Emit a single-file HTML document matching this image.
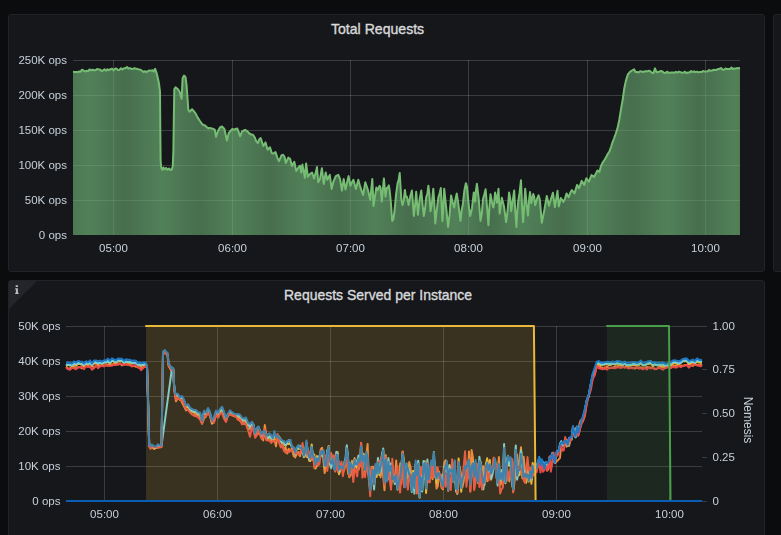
<!DOCTYPE html>
<html><head><meta charset="utf-8"><style>
html,body{margin:0;padding:0;}
body{width:781px;height:535px;overflow:hidden;background:#0b0c0e;position:relative;font-family:"Liberation Sans",sans-serif;}
.panel{position:absolute;background:#16171b;border:1px solid #222328;border-radius:3px;box-sizing:border-box;}
.title{position:absolute;color:#d8d9da;font-size:16px;line-height:18px;-webkit-text-stroke:0.4px #d8d9da;white-space:nowrap;transform-origin:0 0;}
svg{position:absolute;left:0;top:0;will-change:transform;}
</style></head><body>
<div class="panel" style="left:8px;top:14px;width:757px;height:258px;"></div>
<div class="panel" style="left:773px;top:14px;width:60px;height:258px;"></div>
<div class="panel" style="left:8px;top:280px;width:757px;height:300px;"></div>
<div class="title" id="t1" style="top:20px;left:331px;transform:scale(0.88,0.97)">Total Requests</div>
<div class="title" id="t2" style="top:286px;left:283.5px;transform:scale(0.874,0.97)">Requests Served per Instance</div>
<svg width="781" height="535" viewBox="0 0 781 535">
<defs><linearGradient id="gf" x1="73" x2="740" y1="0" y2="0" gradientUnits="userSpaceOnUse"><stop offset="0.0000" stop-color="rgb(115, 185, 122)" stop-opacity="0.6"/><stop offset="0.0255" stop-color="rgb(122, 200, 130)" stop-opacity="0.6"/><stop offset="0.0780" stop-color="rgb(105, 168, 112)" stop-opacity="0.6"/><stop offset="0.1334" stop-color="rgb(122, 200, 130)" stop-opacity="0.6"/><stop offset="0.1904" stop-color="rgb(105, 168, 112)" stop-opacity="0.6"/><stop offset="0.2429" stop-color="rgb(122, 200, 130)" stop-opacity="0.6"/><stop offset="0.2954" stop-color="rgb(105, 168, 112)" stop-opacity="0.6"/><stop offset="0.3478" stop-color="rgb(122, 200, 130)" stop-opacity="0.6"/><stop offset="0.4003" stop-color="rgb(105, 168, 112)" stop-opacity="0.6"/><stop offset="0.4528" stop-color="rgb(122, 200, 130)" stop-opacity="0.6"/><stop offset="0.5052" stop-color="rgb(105, 168, 112)" stop-opacity="0.6"/><stop offset="0.5742" stop-color="rgb(122, 200, 130)" stop-opacity="0.6"/><stop offset="0.6252" stop-color="rgb(105, 168, 112)" stop-opacity="0.6"/><stop offset="0.6732" stop-color="rgb(122, 200, 130)" stop-opacity="0.6"/><stop offset="0.7331" stop-color="rgb(105, 168, 112)" stop-opacity="0.6"/><stop offset="0.7796" stop-color="rgb(122, 200, 130)" stop-opacity="0.6"/><stop offset="0.8381" stop-color="rgb(105, 168, 112)" stop-opacity="0.6"/><stop offset="0.8921" stop-color="rgb(122, 200, 130)" stop-opacity="0.6"/><stop offset="0.9385" stop-color="rgb(105, 168, 112)" stop-opacity="0.6"/><stop offset="0.9925" stop-color="rgb(122, 200, 130)" stop-opacity="0.6"/><stop offset="1.0000" stop-color="rgb(119, 191, 125)" stop-opacity="0.6"/></linearGradient></defs>
<polygon points="9,281 37,281 9,309" fill="#23252a"/>
<g fill="#b9bdc3"><rect x="15.5" y="285.3" width="2.6" height="1.7" rx="0.7"/><path d="M15.2,288.3 H17.9 V292.8 H18.6 V294 H15.2 V292.8 H15.9 V289.4 H15.2 Z"/></g>
<g stroke="rgba(255,255,255,0.16)" stroke-width="1" shape-rendering="crispEdges"><line x1="73" y1="60.5" x2="740" y2="60.5"/><line x1="73" y1="95.5" x2="740" y2="95.5"/><line x1="73" y1="130.5" x2="740" y2="130.5"/><line x1="73" y1="165.5" x2="740" y2="165.5"/><line x1="73" y1="200.5" x2="740" y2="200.5"/><line x1="113.5" y1="60" x2="113.5" y2="235"/><line x1="232.5" y1="60" x2="232.5" y2="235"/><line x1="350.5" y1="60" x2="350.5" y2="235"/><line x1="468.5" y1="60" x2="468.5" y2="235"/><line x1="587.5" y1="60" x2="587.5" y2="235"/><line x1="705.5" y1="60" x2="705.5" y2="235"/><line x1="66" y1="326.5" x2="707" y2="326.5"/><line x1="66" y1="361.5" x2="702" y2="361.5"/><line x1="66" y1="396.5" x2="702" y2="396.5"/><line x1="66" y1="431.5" x2="702" y2="431.5"/><line x1="66" y1="466.5" x2="702" y2="466.5"/><line x1="104.5" y1="326" x2="104.5" y2="501"/><line x1="217.5" y1="326" x2="217.5" y2="501"/><line x1="330.5" y1="326" x2="330.5" y2="501"/><line x1="443.5" y1="326" x2="443.5" y2="501"/><line x1="556.5" y1="326" x2="556.5" y2="501"/><line x1="669.5" y1="326" x2="669.5" y2="501"/></g>
<path d="M73,71.8 L74.5,71.9 L76,71.9 L77.5,72.1 L79,71.5 L80.5,71.8 L82,69.7 L83.5,70.5 L85,71.5 L86.5,70.8 L88,71.3 L89.5,69.5 L91,70.2 L92.5,69.7 L94,70.3 L95.5,70.3 L97,69 L98.5,69.4 L100,69.5 L101.5,70.9 L103,70.6 L104.5,69.3 L106,70.7 L107.5,69.2 L109,70.3 L110.5,69.1 L112,68.7 L113.5,70.4 L115,68.8 L116.5,68.6 L118,70.1 L119.5,69.7 L121,68.2 L122.5,69.4 L124,68.2 L125.5,68.3 L127,67 L128.5,68.5 L130,68.1 L131.5,68.9 L133,68.9 L134.5,68.1 L136,68.8 L137.5,68.9 L139,69.4 L140.5,69.7 L142,70.8 L143.5,72 L145,71.2 L146.5,72.2 L148,70.9 L149.5,70.4 L150,70.9 L152.4,70.3 L153.6,71.5 L155.1,68.8 L156.7,73.4 L157.9,78.2 L159.1,84.3 L160,91.6 L160.3,130 L160.6,160 L161.2,167.5 L162.3,169.8 L163.5,167.5 L164.5,169.2 L166,168 L167.5,169.8 L169,168.5 L170.5,170 L171.8,169.5 L172.8,166 L173.4,150 L173.8,120 L174.3,89.2 L175.5,87.4 L178,89.2 L179.8,92.2 L181.6,98.9 L182.6,78.2 L184,75.6 L185.5,77 L186.5,84.3 L187.4,96.5 L188.3,109.8 L189.5,111.7 L192,109.2 L193.8,111.1 L195.6,113.5 L197.4,117.1 L199.8,120.8 L202.3,124.4 L205,125.5 L207,127.2 L208.5,128.4 L210,127.9 L212.5,128.6 L214.8,129.7 L216,136.8 L218,131 L220,127.5 L222,126.5 L224.4,129 L226.9,140.5 L228.7,133.2 L231.1,130.2 L232.3,129 L234.2,129.6 L235.7,128.9 L237.2,128.4 L238.6,131.8 L240,136.3 L242.1,131.4 L243.6,130.5 L245.1,129.8 L247.5,131.4 L249.3,133.5 L251.2,134.5 L253,134.8 L254.8,137.5 L256.4,141.6 L257.9,143 L259.3,139.2 L260.7,138.1 L263.3,146 L265.5,142.4 L267.6,149.7 L270,147.2 L271.8,153.3 L273.6,153.4 L275.5,152.1 L277.3,157.6 L279.1,161.2 L281.6,155.1 L283.1,154.7 L284.6,157 L285.8,163 L288.3,157.6 L290.1,158.8 L291.9,166.1 L294.3,161.8 L296.2,170.9 L298.6,167.3 L300,165.8 L301.2,172.5 L302.4,164.6 L304.9,177.9 L306.1,163.4 L307.9,176.7 L309.7,174.3 L312.1,172.5 L314,178.5 L315.5,173.6 L317,167 L318.2,182.2 L320,179.1 L321.9,168.2 L323.7,184 L325.7,172.5 L327.3,179.8 L329.8,174.9 L331.6,188.9 L333.4,181.6 L335.8,176.1 L338.3,174.9 L340.1,179.1 L341.9,190.7 L343.7,179.1 L345.5,189.5 L348.6,176.1 L350.4,185.8 L351.9,182.4 L353.4,179.8 L355.9,188.9 L358.3,179.8 L360.1,186.4 L361.6,190.9 L363.1,194.9 L365.3,182.2 L368,190.1 L370.2,199.8 L372.3,179.1 L373.5,205.9 L376.3,187.6 L377.7,190.1 L379.5,185.8 L380.5,187.5 L381.8,201.5 L383.9,178.4 L385.5,196.6 L386.7,188.1 L387.9,187.5 L388.8,185.4 L389.7,190.5 L390.9,203.2 L392.2,221 L393.4,219.1 L394.6,210 L396.1,194.2 L397.6,183.2 L398.6,180.1 L399.7,172.9 L401.3,199 L402.5,205.1 L403.7,200.9 L404.9,189.9 L405.8,196.8 L406.7,196.6 L407.6,199.6 L408.6,205.1 L410.2,196.6 L411.9,190.5 L412.9,203.4 L413.8,216 L415,206.1 L416.2,191.7 L417.9,214.8 L419.6,199.5 L421.3,190.5 L422.6,205.2 L423.8,216 L425,209 L426.2,197.2 L427.3,194.3 L428.4,185.7 L429.4,194.7 L430.5,211.2 L431.9,203.5 L433.3,188.7 L434.3,202.8 L435.3,223.4 L436.9,209 L438.4,197.2 L439.6,193.5 L440.8,188.1 L442.4,220.9 L443.3,208.1 L444.2,188.7 L446.1,206.6 L448.1,227 L449.6,214.6 L451.1,195.4 L452.6,201.9 L454.2,207.6 L455.5,199.1 L456.8,193.6 L458.6,205.8 L460.5,220.9 L461.7,209.8 L462.9,203.9 L464.4,190.2 L465.9,183.2 L466.9,186.5 L467.8,195.4 L469,207.3 L470.2,216.1 L472,208.2 L473.8,192.4 L475.1,201.5 L476,189.9 L476.9,183.8 L478.7,198.7 L480.5,220.9 L481.8,213.8 L483,199 L484.3,194.4 L485.6,189.3 L487,206.5 L488.4,225.2 L489.4,207.6 L490.5,194.2 L491.9,201.7 L493.3,207.6 L494.2,202.6 L495.1,192.4 L496.1,197.2 L497,202.7 L498.5,188.7 L499.7,213.6 L500.8,205.1 L501.8,197.8 L504,206.4 L506.1,222.1 L507.6,210.6 L509.1,192.4 L510.1,198.1 L511.2,211.2 L512.7,200.8 L514.2,190.5 L515.3,211.5 L516.4,227 L517.3,211.3 L518.2,201.5 L519.6,192.7 L521,180.2 L522,204.7 L523.1,222.1 L524.2,206.4 L525.2,188.7 L526.6,204.4 L528,215.5 L529,200.6 L530,192 L531.3,203.2 L532.3,198.1 L533.3,194 L534.2,196.8 L535.2,205.2 L537,199 L538.5,195.3 L539.8,199.3 L541.8,222.8 L544.4,209.7 L546.8,196 L549,205.8 L550.9,199.3 L552.9,192.7 L554.9,207.1 L557.5,190.8 L558.8,206.5 L560.8,198 L563.4,201.9 L565,198.6 L566.6,193.4 L568.6,197.3 L570.2,193.1 L571.9,190.1 L574.5,193.4 L577.1,184.9 L579.1,188.1 L581.7,180.9 L584.3,184.9 L586.3,178.3 L588.9,181.6 L591.5,175.1 L594.1,177 L595.8,173.6 L597.4,170.5 L599.4,171.8 L601,166 L602.6,162.6 L604.8,159.5 L606.3,156.7 L608,153.5 L609.4,151.6 L611,147 L612.5,142.3 L614,138.5 L615.6,134 L617.6,127.9 L619.3,119.7 L621.3,107.3 L622.8,99.1 L624.2,88.8 L625.9,80.6 L627.9,74.4 L630,71.9 L632,70.5 L634.1,69.3 L635.5,72 L637,71.9 L638.5,72.5 L640,71.3 L641.5,71.4 L643,72 L644.5,71.5 L646,71.1 L647.5,71.4 L649,70.8 L650.5,71.4 L652,72.9 L653.5,72.9 L655,68.4 L656.5,72.2 L658,71.9 L659.5,71.6 L661,71 L662.5,71.5 L664,72.7 L665.5,72.9 L667,71.7 L668.5,72.7 L670,72.7 L671.5,72.5 L673,72.5 L674.5,72.7 L676,71.8 L677.5,72.6 L679,71.6 L680.5,72.1 L682,72.8 L683.5,72.6 L685,71.7 L686.5,73.2 L688,72.5 L689.5,72.4 L691,71 L692.5,72.1 L694,71.3 L695.5,72.2 L697,71.6 L698.5,72.4 L700,71.9 L701.5,72.1 L703,71 L704.5,71.6 L706,71.6 L707.5,71.4 L709,70 L710.5,70.8 L712,70.5 L713.5,69.8 L715,70.1 L716.5,70 L718,68.9 L719.5,68.9 L721,68 L722.5,69.5 L724,69.7 L725.5,68.5 L727,69 L728.5,69 L730,69 L731.5,67.6 L733,69 L734.5,68.4 L736,68.6 L737.5,67.9 L739,68.3 L740,68 L740,235 L73,235 Z" fill="url(#gf)" stroke="none"/>
<path d="M73,71.8 L74.5,71.9 L76,71.9 L77.5,72.1 L79,71.5 L80.5,71.8 L82,69.7 L83.5,70.5 L85,71.5 L86.5,70.8 L88,71.3 L89.5,69.5 L91,70.2 L92.5,69.7 L94,70.3 L95.5,70.3 L97,69 L98.5,69.4 L100,69.5 L101.5,70.9 L103,70.6 L104.5,69.3 L106,70.7 L107.5,69.2 L109,70.3 L110.5,69.1 L112,68.7 L113.5,70.4 L115,68.8 L116.5,68.6 L118,70.1 L119.5,69.7 L121,68.2 L122.5,69.4 L124,68.2 L125.5,68.3 L127,67 L128.5,68.5 L130,68.1 L131.5,68.9 L133,68.9 L134.5,68.1 L136,68.8 L137.5,68.9 L139,69.4 L140.5,69.7 L142,70.8 L143.5,72 L145,71.2 L146.5,72.2 L148,70.9 L149.5,70.4 L150,70.9 L152.4,70.3 L153.6,71.5 L155.1,68.8 L156.7,73.4 L157.9,78.2 L159.1,84.3 L160,91.6 L160.3,130 L160.6,160 L161.2,167.5 L162.3,169.8 L163.5,167.5 L164.5,169.2 L166,168 L167.5,169.8 L169,168.5 L170.5,170 L171.8,169.5 L172.8,166 L173.4,150 L173.8,120 L174.3,89.2 L175.5,87.4 L178,89.2 L179.8,92.2 L181.6,98.9 L182.6,78.2 L184,75.6 L185.5,77 L186.5,84.3 L187.4,96.5 L188.3,109.8 L189.5,111.7 L192,109.2 L193.8,111.1 L195.6,113.5 L197.4,117.1 L199.8,120.8 L202.3,124.4 L205,125.5 L207,127.2 L208.5,128.4 L210,127.9 L212.5,128.6 L214.8,129.7 L216,136.8 L218,131 L220,127.5 L222,126.5 L224.4,129 L226.9,140.5 L228.7,133.2 L231.1,130.2 L232.3,129 L234.2,129.6 L235.7,128.9 L237.2,128.4 L238.6,131.8 L240,136.3 L242.1,131.4 L243.6,130.5 L245.1,129.8 L247.5,131.4 L249.3,133.5 L251.2,134.5 L253,134.8 L254.8,137.5 L256.4,141.6 L257.9,143 L259.3,139.2 L260.7,138.1 L263.3,146 L265.5,142.4 L267.6,149.7 L270,147.2 L271.8,153.3 L273.6,153.4 L275.5,152.1 L277.3,157.6 L279.1,161.2 L281.6,155.1 L283.1,154.7 L284.6,157 L285.8,163 L288.3,157.6 L290.1,158.8 L291.9,166.1 L294.3,161.8 L296.2,170.9 L298.6,167.3 L300,165.8 L301.2,172.5 L302.4,164.6 L304.9,177.9 L306.1,163.4 L307.9,176.7 L309.7,174.3 L312.1,172.5 L314,178.5 L315.5,173.6 L317,167 L318.2,182.2 L320,179.1 L321.9,168.2 L323.7,184 L325.7,172.5 L327.3,179.8 L329.8,174.9 L331.6,188.9 L333.4,181.6 L335.8,176.1 L338.3,174.9 L340.1,179.1 L341.9,190.7 L343.7,179.1 L345.5,189.5 L348.6,176.1 L350.4,185.8 L351.9,182.4 L353.4,179.8 L355.9,188.9 L358.3,179.8 L360.1,186.4 L361.6,190.9 L363.1,194.9 L365.3,182.2 L368,190.1 L370.2,199.8 L372.3,179.1 L373.5,205.9 L376.3,187.6 L377.7,190.1 L379.5,185.8 L380.5,187.5 L381.8,201.5 L383.9,178.4 L385.5,196.6 L386.7,188.1 L387.9,187.5 L388.8,185.4 L389.7,190.5 L390.9,203.2 L392.2,221 L393.4,219.1 L394.6,210 L396.1,194.2 L397.6,183.2 L398.6,180.1 L399.7,172.9 L401.3,199 L402.5,205.1 L403.7,200.9 L404.9,189.9 L405.8,196.8 L406.7,196.6 L407.6,199.6 L408.6,205.1 L410.2,196.6 L411.9,190.5 L412.9,203.4 L413.8,216 L415,206.1 L416.2,191.7 L417.9,214.8 L419.6,199.5 L421.3,190.5 L422.6,205.2 L423.8,216 L425,209 L426.2,197.2 L427.3,194.3 L428.4,185.7 L429.4,194.7 L430.5,211.2 L431.9,203.5 L433.3,188.7 L434.3,202.8 L435.3,223.4 L436.9,209 L438.4,197.2 L439.6,193.5 L440.8,188.1 L442.4,220.9 L443.3,208.1 L444.2,188.7 L446.1,206.6 L448.1,227 L449.6,214.6 L451.1,195.4 L452.6,201.9 L454.2,207.6 L455.5,199.1 L456.8,193.6 L458.6,205.8 L460.5,220.9 L461.7,209.8 L462.9,203.9 L464.4,190.2 L465.9,183.2 L466.9,186.5 L467.8,195.4 L469,207.3 L470.2,216.1 L472,208.2 L473.8,192.4 L475.1,201.5 L476,189.9 L476.9,183.8 L478.7,198.7 L480.5,220.9 L481.8,213.8 L483,199 L484.3,194.4 L485.6,189.3 L487,206.5 L488.4,225.2 L489.4,207.6 L490.5,194.2 L491.9,201.7 L493.3,207.6 L494.2,202.6 L495.1,192.4 L496.1,197.2 L497,202.7 L498.5,188.7 L499.7,213.6 L500.8,205.1 L501.8,197.8 L504,206.4 L506.1,222.1 L507.6,210.6 L509.1,192.4 L510.1,198.1 L511.2,211.2 L512.7,200.8 L514.2,190.5 L515.3,211.5 L516.4,227 L517.3,211.3 L518.2,201.5 L519.6,192.7 L521,180.2 L522,204.7 L523.1,222.1 L524.2,206.4 L525.2,188.7 L526.6,204.4 L528,215.5 L529,200.6 L530,192 L531.3,203.2 L532.3,198.1 L533.3,194 L534.2,196.8 L535.2,205.2 L537,199 L538.5,195.3 L539.8,199.3 L541.8,222.8 L544.4,209.7 L546.8,196 L549,205.8 L550.9,199.3 L552.9,192.7 L554.9,207.1 L557.5,190.8 L558.8,206.5 L560.8,198 L563.4,201.9 L565,198.6 L566.6,193.4 L568.6,197.3 L570.2,193.1 L571.9,190.1 L574.5,193.4 L577.1,184.9 L579.1,188.1 L581.7,180.9 L584.3,184.9 L586.3,178.3 L588.9,181.6 L591.5,175.1 L594.1,177 L595.8,173.6 L597.4,170.5 L599.4,171.8 L601,166 L602.6,162.6 L604.8,159.5 L606.3,156.7 L608,153.5 L609.4,151.6 L611,147 L612.5,142.3 L614,138.5 L615.6,134 L617.6,127.9 L619.3,119.7 L621.3,107.3 L622.8,99.1 L624.2,88.8 L625.9,80.6 L627.9,74.4 L630,71.9 L632,70.5 L634.1,69.3 L635.5,72 L637,71.9 L638.5,72.5 L640,71.3 L641.5,71.4 L643,72 L644.5,71.5 L646,71.1 L647.5,71.4 L649,70.8 L650.5,71.4 L652,72.9 L653.5,72.9 L655,68.4 L656.5,72.2 L658,71.9 L659.5,71.6 L661,71 L662.5,71.5 L664,72.7 L665.5,72.9 L667,71.7 L668.5,72.7 L670,72.7 L671.5,72.5 L673,72.5 L674.5,72.7 L676,71.8 L677.5,72.6 L679,71.6 L680.5,72.1 L682,72.8 L683.5,72.6 L685,71.7 L686.5,73.2 L688,72.5 L689.5,72.4 L691,71 L692.5,72.1 L694,71.3 L695.5,72.2 L697,71.6 L698.5,72.4 L700,71.9 L701.5,72.1 L703,71 L704.5,71.6 L706,71.6 L707.5,71.4 L709,70 L710.5,70.8 L712,70.5 L713.5,69.8 L715,70.1 L716.5,70 L718,68.9 L719.5,68.9 L721,68 L722.5,69.5 L724,69.7 L725.5,68.5 L727,69 L728.5,69 L730,69 L731.5,67.6 L733,69 L734.5,68.4 L736,68.6 L737.5,67.9 L739,68.3 L740,68" fill="none" stroke="#76BC73" stroke-width="2" stroke-linejoin="round"/>
<g font-size="11.5" fill="#c7d0d9" font-family="Liberation Sans"><text x="67" y="64.1" text-anchor="end">250K ops</text><text x="67" y="99.1" text-anchor="end">200K ops</text><text x="67" y="134.1" text-anchor="end">150K ops</text><text x="67" y="169.1" text-anchor="end">100K ops</text><text x="67" y="204.1" text-anchor="end">50K ops</text><text x="67" y="239.1" text-anchor="end">0 ops</text><text x="113.5" y="251.5" text-anchor="middle">05:00</text><text x="232.5" y="251.5" text-anchor="middle">06:00</text><text x="350.5" y="251.5" text-anchor="middle">07:00</text><text x="468.5" y="251.5" text-anchor="middle">08:00</text><text x="587.5" y="251.5" text-anchor="middle">09:00</text><text x="705.5" y="251.5" text-anchor="middle">10:00</text><text x="60.5" y="330.1" text-anchor="end">50K ops</text><text x="60.5" y="365.1" text-anchor="end">40K ops</text><text x="60.5" y="400.1" text-anchor="end">30K ops</text><text x="60.5" y="435.1" text-anchor="end">20K ops</text><text x="60.5" y="470.1" text-anchor="end">10K ops</text><text x="60.5" y="505.1" text-anchor="end">0 ops</text><text x="104.5" y="518.3" text-anchor="middle">05:00</text><text x="217.5" y="518.3" text-anchor="middle">06:00</text><text x="330.5" y="518.3" text-anchor="middle">07:00</text><text x="443.5" y="518.3" text-anchor="middle">08:00</text><text x="556.5" y="518.3" text-anchor="middle">09:00</text><text x="669.5" y="518.3" text-anchor="middle">10:00</text><text x="712.5" y="330.1">1.00</text><text x="712.5" y="373.1">0.75</text><text x="712.5" y="417.1">0.50</text><text x="712.5" y="461.1">0.25</text><text x="712.5" y="505.1">0</text>
<text transform="translate(744.4,420) rotate(90)" text-anchor="middle" font-size="12">Nemesis</text></g>
<g stroke="rgba(255,255,255,0.16)" shape-rendering="crispEdges"><line x1="702" y1="369.5" x2="707" y2="369.5"/><line x1="702" y1="413.5" x2="707" y2="413.5"/><line x1="702" y1="457.5" x2="707" y2="457.5"/><line x1="702" y1="501.5" x2="707" y2="501.5"/></g>
<g fill="none" stroke-width="2" stroke-linejoin="round"><path d="M66,366.7 L68,368.4 L70,368.3 L72,367.1 L74,367 L76,368.7 L78,367 L80,367.2 L82,368.4 L84,366.4 L86,365.9 L88,365.8 L90,366.7 L92,366 L94,367.5 L96,366 L98,365.8 L100,366 L102,365.6 L104,365.6 L106,365.3 L108,364.3 L110,365.5 L112,364.5 L114,364.1 L116,363.7 L118,364.7 L120,363.6 L122,365.4 L124,364.3 L126,364.2 L128,364.4 L130,364.4 L132,366.2 L134,365.8 L136,366.8 L138,367.1 L140,368.3 L141,368.5 L142,367.8 L144,367 L146,366.5 L147,366.3 L148,399.5 L149.2,444.9 L150,446.9 L150.5,448.5 L152,446.9 L154,449 L156,447.9 L158,447.5 L160,446.8 L161.5,446.6 L162,416.1 L163,354.8 L164,353.1 L165,352.2 L166,352.4 L167.5,354.1 L168,360.3 L168.8,366.5 L170,368.3 L171,370.2 L172,370.6 L173.3,371.1 L174,384.6 L174.4,390.1 L175.5,398.4 L176,401.3 L178,396.8 L180,397.7 L182,402.5 L184,406.3 L186,410.4 L188,409.4 L190,411.8 L192,411 L194,412.8 L196,415.2 L198,415 L200,416.4 L202,423.8 L204,418.3 L206,416.6 L208,411.8 L210,416.1 L212,423.7 L214,421.8 L216,414.8 L218,417.1 L220,412.8 L222,411.2 L224,417.2 L226,420.7 L228,413.9 L230,414.5 L232,415.1 L234,416.2 L236,416.4 L238,417.6 L240,421 L242,422.2 L244,424.1 L246,421.4 L248,429.2 L250,429.1 L252,424.5 L253.6,429.4 L255.2,436.3 L256.8,433.3 L258.4,433.9 L260,432.5 L261.6,432.1 L263.2,440.5 L264.8,425.1 L266.4,435.7 L268,438.5 L269.6,439.2 L271.2,442 L272.8,439.4 L274.4,439.4 L276,446.4 L277.6,435.3 L279.2,436.5 L280.8,441.3 L282.4,443.6 L284,450.4 L285.6,447.3 L287.2,453.5 L288.8,448.9 L290.4,450.9 L292,448.6 L293.6,455.7 L295.2,457.4 L296.8,453.5 L298.4,452 L300,456.1 L301.3,449.2 L302.6,453.6 L303.9,452 L305.2,453.9 L306.5,457.1 L307.8,456.7 L309.1,457.1 L310.4,453.3 L311.7,459.4 L313,457.5 L314.3,463.2 L315.6,466.3 L316.9,466.4 L318.2,464.6 L319.5,456.6 L320.8,449.3 L322.1,447.7 L323.4,460.4 L324.7,473.1 L326,461.4 L327.3,468.7 L328.6,454.5 L329.9,464.4 L331.2,460 L332.5,465.2 L333.8,458.3 L335.1,459.4 L336.4,452.7 L337.7,468.5 L339,464.6 L340.3,465.5 L341.6,466.2 L342.9,466.8 L344.2,470.5 L345.5,461.4 L346.8,460.8 L348.1,473.7 L349.4,475.9 L350.7,475.4 L352,460.8 L353.3,471.8 L354.6,467.9 L355.9,464.8 L357.2,460.4 L358.5,470.1 L359.8,465.2 L361.1,462.8 L362.4,461.5 L363.7,456.2 L365,475.2 L366.3,455.7 L367.6,444 L368.9,479.2 L370.2,485.6 L371.5,467 L372.8,466.6 L374.1,471.9 L375.4,473.1 L376.7,468.6 L378,468.3 L379.3,468.5 L380.6,477.3 L381.9,464.8 L383.2,476.7 L384.5,490.2 L385.8,462 L387.1,472 L388.4,479.3 L389.7,472 L391,486.6 L392.3,477.7 L393.6,477.9 L394.9,479.6 L396.2,460.6 L397.5,486.8 L398.8,486.8 L400.1,463.6 L401.4,483.8 L402.7,455.4 L404,481.7 L405.3,481 L406.6,471.1 L407.9,484.4 L409.2,462 L410.5,467.2 L411.8,483.7 L413.1,473 L414.4,479.1 L415.7,465.3 L417,486.6 L418.3,477.2 L419.6,487.2 L420.9,473.9 L422.2,476.9 L423.5,477.1 L424.8,478.8 L426.1,470.2 L427.4,463.3 L428.7,473.9 L430,472.2 L431.3,475.2 L432.6,479.2 L433.9,459.8 L435.2,467.6 L436.5,488.5 L437.8,486.1 L439.1,474 L440.4,477.5 L441.7,475.1 L443,477 L444.3,462.4 L445.6,460.2 L446.9,465.5 L448.2,470.7 L449.5,486.8 L450.8,485.7 L452.1,472.4 L453.4,473.4 L454.7,477.6 L456,483.5 L457.3,477.1 L458.6,476.9 L459.9,467.7 L461.2,475.3 L462.5,487 L463.8,480.7 L465.1,457.9 L466.4,472.7 L467.7,478.4 L469,451.4 L470.3,491.6 L471.6,450.1 L472.9,457.5 L474.2,487.9 L475.5,467.5 L476.8,467.1 L478.1,478 L479.4,465.6 L480.7,462.8 L482,472.5 L483.3,466.3 L484.6,485 L485.9,463.4 L487.2,481.3 L488.5,472.3 L489.8,465.7 L491.1,479.7 L492.4,472.4 L493.7,458.6 L495,466.3 L496.3,471.9 L497.6,475 L498.9,457 L500.2,484.9 L501.5,477.8 L502.8,486 L504.1,458.7 L505.4,481.1 L506.7,466.3 L508,475.3 L509.3,481.4 L510.6,468.1 L511.9,475.2 L513.2,491.7 L514.5,481.5 L515.8,470.5 L517.1,454.5 L518.4,465.1 L519.7,463.1 L521,447.2 L522.3,478.1 L523.6,456.7 L524.9,468.8 L526.2,470.7 L527.5,471.8 L528.8,468.2 L530.1,472.4 L531.4,480.1 L532.7,472.1 L534,464.2 L535.3,469 L536.6,464.4 L537.9,467 L539.2,463 L540.5,465.2 L541.8,467.5 L543.1,469.5 L544.4,463 L545.7,464 L547,470.7 L548.3,469.6 L549.6,456.8 L550.9,468.8 L552.2,462.1 L553.5,459.4 L554.8,463.3 L556.1,462 L557.4,460.8 L558.7,459.3 L560,458 L561.3,444.2 L562.6,445.5 L563.9,443.5 L565.2,438.5 L566.5,446.7 L567.8,444.6 L569.1,445.9 L570.4,440.3 L571.7,437.9 L573,432.1 L574.3,431 L575.6,428.3 L576.9,429.1 L578.2,435.5 L579.5,423.7 L580.8,420.1 L582.8,421.7 L584.8,416 L586.8,402 L588.8,396 L590.8,385.4 L592.8,378.2 L594.8,373.8 L596.8,366.7 L598.8,366.1 L600.8,367.2 L602.8,367.8 L604.8,368.9 L606.8,366.6 L608.8,367.7 L610.8,367.9 L612.8,367.5 L614.8,366.6 L616.8,366.2 L618.8,365.8 L620.8,365.6 L622.8,366.5 L624.8,367.5 L626.8,366.4 L628.8,368.1 L630.8,367.4 L632.8,367.8 L634.8,368.5 L636.8,367.8 L638.8,367.6 L640.8,367.3 L642.8,368.3 L644.8,368.1 L646.8,366.9 L648.8,367.5 L650.8,367.6 L652.8,368 L654.8,368.7 L656.8,368.7 L658.8,367.2 L660.8,367 L662.8,367 L664.8,366.9 L666.8,366.7 L668.8,367.4 L670.8,367.4 L672.8,364.9 L674.8,366.3 L676.8,365.3 L678.8,366.2 L680.8,365.4 L682.8,365.8 L684.8,365.3 L686.8,365.1 L688.8,364.4 L690.8,365.1 L692.8,365.9 L694.8,364.4 L696.8,364.7 L698.8,365.4 L700.8,364.6 L702,365.3" stroke="#EF843C"/><path d="M66,366 L68,364.9 L70,365.6 L72,365.8 L74,364.5 L76,365.8 L78,363.7 L80,364 L82,364.8 L84,366.6 L86,364.3 L88,364.6 L90,363.1 L92,365.7 L94,363.4 L96,363.6 L98,364.4 L100,363 L102,364.3 L104,362.8 L106,362.6 L108,361.6 L110,363.7 L112,360.8 L114,362 L116,363.2 L118,361.5 L120,361.4 L122,361 L124,363.1 L126,361.6 L128,362.8 L130,362.4 L132,363.5 L134,363.1 L136,363.3 L138,365.4 L140,365.5 L141,366 L142,365.2 L144,365.1 L146,364.3 L147,367 L148,398.8 L149.2,446.1 L150,446.1 L150.5,447.7 L152,445.4 L154,447.7 L156,447.4 L158,445.3 L160,446.4 L161.5,446.5 L162,414.7 L163,352.5 L164,352.2 L165,351.5 L166,353.2 L167.5,354.2 L168,358.1 L168.8,365.5 L170,365.6 L171,369.2 L172,367.9 L173.3,369.7 L174,384.6 L174.4,388.6 L175.5,396 L176,394.9 L178,395.4 L180,400 L182,398.7 L184,401.1 L186,407.1 L188,406.8 L190,409.4 L192,411.9 L194,411.8 L196,412 L198,413.9 L200,414.3 L202,422.8 L204,412.6 L206,415.1 L208,409.3 L210,414 L212,423 L214,418.7 L216,412.3 L218,414.2 L220,410.5 L222,409.4 L224,414.2 L226,418.9 L228,415.4 L230,412.7 L232,413.9 L234,415 L236,416.3 L238,415.9 L240,417.7 L242,419.6 L244,421.5 L246,420.3 L248,425.1 L250,424.6 L252,425.2 L253.6,425.4 L255.2,435.6 L256.8,428.5 L258.4,427.1 L260,432.4 L261.6,434.9 L263.2,435.5 L264.8,434 L266.4,439.6 L268,438.2 L269.6,436.5 L271.2,437.8 L272.8,440.3 L274.4,434.3 L276,440.2 L277.6,436.2 L279.2,440.2 L280.8,441.4 L282.4,442.5 L284,444.5 L285.6,445.8 L287.2,443.4 L288.8,444 L290.4,443.3 L292,447.5 L293.6,447.8 L295.2,452.2 L296.8,448.1 L298.4,449.1 L300,448.6 L301.3,448 L302.6,450.3 L303.9,457.2 L305.2,449.1 L306.5,443.7 L307.8,453 L309.1,460.7 L310.4,460.9 L311.7,444.4 L313,458 L314.3,454.5 L315.6,468.5 L316.9,456 L318.2,460.6 L319.5,459.8 L320.8,453 L322.1,456.1 L323.4,450.8 L324.7,466.9 L326,464.1 L327.3,453.9 L328.6,445.9 L329.9,463.7 L331.2,461.8 L332.5,457 L333.8,466.8 L335.1,471.3 L336.4,456.2 L337.7,452.3 L339,474.3 L340.3,469.9 L341.6,467.6 L342.9,467 L344.2,468.1 L345.5,464.7 L346.8,446.8 L348.1,461.3 L349.4,477.2 L350.7,467.8 L352,464.7 L353.3,466.2 L354.6,458.3 L355.9,463.3 L357.2,468.4 L358.5,462.7 L359.8,463.2 L361.1,443.2 L362.4,460.1 L363.7,453.8 L365,472.5 L366.3,455.3 L367.6,462 L368.9,474.9 L370.2,491.1 L371.5,478.1 L372.8,469.4 L374.1,484.6 L375.4,467.3 L376.7,477 L378,461.3 L379.3,474.9 L380.6,463.5 L381.9,455.5 L383.2,450 L384.5,482.1 L385.8,455.3 L387.1,477.8 L388.4,462.3 L389.7,476.7 L391,470.7 L392.3,475.1 L393.6,475.5 L394.9,481.3 L396.2,474.3 L397.5,485.6 L398.8,484.1 L400.1,482.6 L401.4,464.7 L402.7,451.4 L404,461.1 L405.3,483 L406.6,468.2 L407.9,466.3 L409.2,478 L410.5,481 L411.8,487.3 L413.1,470.7 L414.4,486.9 L415.7,464.5 L417,478.6 L418.3,462.3 L419.6,497.5 L420.9,477.1 L422.2,490.9 L423.5,469.1 L424.8,461.3 L426.1,493 L427.4,469.5 L428.7,481.7 L430,473.6 L431.3,466.4 L432.6,462.6 L433.9,459 L435.2,468.9 L436.5,483 L437.8,470.1 L439.1,472.1 L440.4,478.8 L441.7,487.9 L443,489.2 L444.3,469 L445.6,471.4 L446.9,466.1 L448.2,490.8 L449.5,465.1 L450.8,470 L452.1,468.2 L453.4,481.8 L454.7,466.2 L456,490.9 L457.3,493.9 L458.6,458.4 L459.9,474.1 L461.2,491.7 L462.5,478.4 L463.8,474 L465.1,462 L466.4,464.6 L467.7,463 L469,461.6 L470.3,484.6 L471.6,468.2 L472.9,461.9 L474.2,472.4 L475.5,463.1 L476.8,476.9 L478.1,483.1 L479.4,460.8 L480.7,462 L482,471.1 L483.3,482.1 L484.6,480.3 L485.9,464.4 L487.2,458.3 L488.5,471.4 L489.8,459.9 L491.1,478.7 L492.4,469.1 L493.7,467.5 L495,460 L496.3,470.4 L497.6,479.4 L498.9,468.4 L500.2,480.8 L501.5,474.2 L502.8,479.5 L504.1,452 L505.4,483.2 L506.7,468.7 L508,460.9 L509.3,465.9 L510.6,460.8 L511.9,479.8 L513.2,490 L514.5,466.4 L515.8,451.7 L517.1,477.1 L518.4,475 L519.7,474.9 L521,449.7 L522.3,466.9 L523.6,479.4 L524.9,476.2 L526.2,482.7 L527.5,470.6 L528.8,481.6 L530.1,471.2 L531.4,483.7 L532.7,462.9 L534,474.1 L535.3,468.8 L536.6,470.5 L537.9,462.5 L539.2,458.8 L540.5,465.5 L541.8,461.9 L543.1,462.5 L544.4,468.8 L545.7,463.7 L547,465.6 L548.3,464.7 L549.6,457.8 L550.9,457.9 L552.2,456 L553.5,459.6 L554.8,461.9 L556.1,455.3 L557.4,452.6 L558.7,450.1 L560,446 L561.3,442.7 L562.6,442.9 L563.9,445.9 L565.2,443.7 L566.5,440.5 L567.8,445.8 L569.1,438.5 L570.4,438.7 L571.7,436.7 L573,426.5 L574.3,433.1 L575.6,437.1 L576.9,427.6 L578.2,434.3 L579.5,430.2 L580.8,424.7 L582.8,418.9 L584.8,410.8 L586.8,400.3 L588.8,394.7 L590.8,384.5 L592.8,375.9 L594.8,370.3 L596.8,364.2 L598.8,364.3 L600.8,365.1 L602.8,364.8 L604.8,364.4 L606.8,364.1 L608.8,365 L610.8,365 L612.8,363.7 L614.8,364.6 L616.8,363.6 L618.8,364.3 L620.8,364.7 L622.8,365 L624.8,363.7 L626.8,366.2 L628.8,365.7 L630.8,365.6 L632.8,364.7 L634.8,365 L636.8,365.7 L638.8,365 L640.8,363 L642.8,365.6 L644.8,365.4 L646.8,364.3 L648.8,364.1 L650.8,363.1 L652.8,366.2 L654.8,364.6 L656.8,365.3 L658.8,365.7 L660.8,366 L662.8,365.6 L664.8,366.6 L666.8,366.3 L668.8,365.9 L670.8,365.1 L672.8,362.6 L674.8,363.3 L676.8,363.8 L678.8,364.2 L680.8,362.7 L682.8,361.2 L684.8,361.3 L686.8,361.1 L688.8,364.1 L690.8,363.6 L692.8,362.3 L694.8,364 L696.8,361.4 L698.8,362.5 L700.8,362.7 L702,362.5" stroke="#EAB839"/><path d="M66,364.2 L68,364.8 L70,364.8 L72,365.7 L74,363.1 L76,364.1 L78,362.7 L80,363.5 L82,363.7 L84,364.9 L86,362.5 L88,364.1 L90,362 L92,364.9 L94,362.1 L96,362.1 L98,363.3 L100,362.8 L102,363.6 L104,361.5 L106,362.5 L108,360.5 L110,362.7 L112,360.2 L114,361.1 L116,361.9 L118,359.9 L120,360.7 L122,360.1 L124,362.8 L126,361.5 L128,361.7 L130,361.7 L132,362.8 L134,362.8 L136,362.9 L138,365.4 L140,364 L141,364.4 L142,364.9 L144,364.1 L146,364.3 L147,366.6 L148,398 L149.2,445.1 L150,445.7 L150.5,447 L152,445.6 L154,447.3 L156,447.5 L158,445.3 L160,446.7 L161.5,445.9 L172,367.8 L173.3,368.9 L174,383.4 L174.4,388.6 L175.5,395.3 L176,395.4 L178,395 L180,399.9 L182,396.8 L184,401.1 L186,406.3 L188,404.8 L190,408.8 L192,411.2 L194,410.9 L196,411.3 L198,413.7 L200,413.6 L202,422.3 L204,411.5 L206,413.7 L208,409 L210,413.5 L212,422.2 L214,418.7 L216,412.2 L218,414.8 L220,411 L222,407.4 L224,412.7 L226,419.5 L228,415.3 L230,412.7 L232,414 L234,414.5 L236,415.8 L238,415.7 L240,416.3 L242,418.5 L244,420.9 L246,418.9 L248,423.9 L250,427.5 L252,422.7 L253.6,424.6 L255.2,435.3 L256.8,428.4 L258.4,426.9 L260,431.2 L261.6,436.1 L263.2,432 L264.8,433.7 L266.4,439 L268,437.7 L269.6,436.4 L271.2,438.3 L272.8,438.7 L274.4,433.8 L276,437.1 L277.6,437.2 L279.2,437.5 L280.8,439.4 L282.4,443.6 L284,441.4 L285.6,445.2 L287.2,442.5 L288.8,440 L290.4,442.4 L292,446.7 L293.6,450.2 L295.2,454.7 L296.8,448.8 L298.4,446.3 L300,445.7 L301.3,449.6 L302.6,446.6 L303.9,456.5 L305.2,453.8 L306.5,442.6 L307.8,451 L309.1,459.4 L310.4,459.7 L311.7,446.5 L313,459.4 L314.3,457.9 L315.6,464.6 L316.9,459.1 L318.2,460.3 L319.5,455.8 L320.8,454.9 L322.1,453.3 L323.4,453.2 L324.7,465.4 L326,463.7 L327.3,449.9 L328.6,451 L329.9,463.9 L331.2,468.2 L332.5,460.1 L333.8,465.4 L335.1,468.1 L336.4,451.7 L337.7,456.7 L339,471.2 L340.3,470.4 L341.6,466.6 L342.9,467.2 L344.2,463.1 L345.5,458 L346.8,445.3 L348.1,458.9 L349.4,473.7 L350.7,463 L352,470.1 L353.3,467.4 L354.6,463.1 L355.9,465.2 L357.2,461.9 L358.5,455.5 L359.8,463.9 L361.1,451.2 L362.4,456.4 L363.7,458.6 L365,467.5 L366.3,454.5 L367.6,462.3 L368.9,477.8 L370.2,488.4 L371.5,474.2 L372.8,475.7 L374.1,489.4 L375.4,469.6 L376.7,474.7 L378,457.9 L379.3,472.4 L380.6,471.7 L381.9,455.4 L383.2,448.6 L384.5,478.2 L385.8,464.5 L387.1,480.5 L388.4,458.1 L389.7,469.8 L391,463.2 L392.3,479.3 L393.6,478.5 L394.9,484.2 L396.2,471.5 L397.5,489.6 L398.8,477.8 L400.1,477.8 L401.4,469.2 L402.7,452 L404,468.8 L405.3,485.2 L406.6,463.6 L407.9,472.2 L409.2,469.6 L410.5,478 L411.8,492 L413.1,476.2 L414.4,493.6 L415.7,463.3 L417,472.5 L418.3,460.8 L419.6,497.5 L420.9,475.9 L422.2,491.5 L423.5,460.9 L424.8,465.7 L426.1,488.2 L427.4,459.4 L428.7,475.9 L430,473 L431.3,465.1 L432.6,470.2 L433.9,451.9 L435.2,477.3 L436.5,475.5 L437.8,476.5 L439.1,478.9 L440.4,475.8 L441.7,478.1 L443,482.7 L444.3,467.3 L445.6,470 L446.9,462.8 L448.2,490.1 L449.5,465.4 L450.8,473.6 L452.1,466.1 L453.4,478.3 L454.7,462 L456,491.1 L457.3,493.3 L458.6,466.5 L459.9,472.5 L461.2,486.5 L462.5,475.8 L463.8,476.6 L465.1,461.3 L466.4,473.4 L467.7,465.7 L469,464.2 L470.3,485.2 L471.6,471.8 L472.9,467.7 L474.2,481.2 L475.5,464.2 L476.8,475.2 L478.1,481.1 L479.4,456.8 L480.7,467.2 L482,475.4 L483.3,489.4 L484.6,479.9 L485.9,467.6 L487.2,467.3 L488.5,476.5 L489.8,467.8 L491.1,478.4 L492.4,475.1 L493.7,465.2 L495,460.6 L496.3,470.4 L497.6,485.5 L498.9,469.9 L500.2,479.9 L501.5,470 L502.8,481.7 L504.1,444 L505.4,482.4 L506.7,460.3 L508,455.8 L509.3,464.7 L510.6,460.6 L511.9,481.4 L513.2,489.6 L514.5,465 L515.8,445.5 L517.1,479.7 L518.4,471.9 L519.7,469.5 L521,450.4 L522.3,463.3 L523.6,472.9 L524.9,470.5 L526.2,473.1 L527.5,474.4 L528.8,477.5 L530.1,475.9 L531.4,479.5 L532.7,470.5 L534,473.7 L535.3,468.5 L536.6,468.1 L537.9,463.6 L539.2,457.8 L540.5,466.6 L541.8,460.5 L543.1,462.3 L544.4,468.3 L545.7,462.1 L547,465.1 L548.3,465 L549.6,458.8 L550.9,458.3 L552.2,452.9 L553.5,458.5 L554.8,463 L556.1,454.9 L557.4,450.9 L558.7,450.5 L560,443.7 L561.3,441.1 L562.6,445.5 L563.9,445.4 L565.2,440.1 L566.5,439.6 L567.8,445.9 L569.1,438.1 L570.4,438.1 L571.7,439.7 L573,427.9 L574.3,432.2 L575.6,437.3 L576.9,426.6 L578.2,434.6 L579.5,426.9 L580.8,424.1 L582.8,417.9 L584.8,410.7 L586.8,400.3 L588.8,396.3 L590.8,384.5 L592.8,374.6 L594.8,369.4 L596.8,363.3 L598.8,362.5 L600.8,363.9 L602.8,364.5 L604.8,363.7 L606.8,363.1 L608.8,364.2 L610.8,363.3 L612.8,363.6 L614.8,363.8 L616.8,362.8 L618.8,363.6 L620.8,363.7 L622.8,364.7 L624.8,363.8 L626.8,364.9 L628.8,364.8 L630.8,364.6 L632.8,363.9 L634.8,363.6 L636.8,364.4 L638.8,364.1 L640.8,362 L642.8,364.9 L644.8,364.7 L646.8,363.8 L648.8,362.8 L650.8,362.1 L652.8,364.7 L654.8,363.9 L656.8,365.1 L658.8,364.4 L660.8,364.7 L662.8,364.3 L664.8,365.4 L666.8,365.2 L668.8,364.7 L670.8,364.2 L672.8,361.9 L674.8,361.7 L676.8,362.5 L678.8,363.4 L680.8,362.7 L682.8,360.6 L684.8,360.3 L686.8,360.3 L688.8,362.7 L690.8,361.8 L692.8,361.7 L694.8,362.5 L696.8,360.1 L698.8,361.1 L700.8,361.6 L702,361.1" stroke="#6ED0E0"/><path d="M66,367.9 L68,369 L70,369.7 L72,367.9 L74,368.4 L76,369.3 L78,367.1 L80,367.2 L82,366.8 L84,369.2 L86,366 L88,367 L90,366.5 L92,369.6 L94,368.2 L96,365.1 L98,368.1 L100,366.5 L102,365.6 L104,366.5 L106,365.2 L108,366.1 L110,365.7 L112,365.7 L114,364.8 L116,365.1 L118,363.6 L120,364.1 L122,364.2 L124,364.8 L126,364.2 L128,365 L130,365.3 L132,366.3 L134,365.3 L136,365.3 L138,367.5 L140,368.1 L141,370.1 L142,369.4 L144,367.4 L146,366.1 L147,367.2 L148,401 L149.2,446.7 L150,447.6 L150.5,448.6 L152,446.1 L154,447 L156,447.2 L158,447.6 L160,447.5 L161.5,446.8 L162,414.5 L163,354.8 L164,353.2 L165,352.4 L166,354 L167.5,353.9 L168,358.8 L168.8,366.2 L170,366.9 L171,368.9 L172,370 L173.3,371.5 L174,384 L174.4,390.3 L175.5,397 L176,399.4 L178,397.6 L180,400 L182,400.1 L184,404 L186,408.8 L188,409.9 L190,412.5 L192,414.4 L194,415.7 L196,416.2 L198,417.3 L200,419.5 L202,423.4 L204,416 L206,416.1 L208,412.4 L210,415.6 L212,421.8 L214,422.6 L216,414.3 L218,417.7 L220,413.8 L222,413 L224,418.7 L226,422 L228,415.8 L230,413.9 L232,415.4 L234,415.3 L236,416.8 L238,419.9 L240,419.5 L242,424.3 L244,422.2 L246,424.7 L248,430 L250,436.7 L252,426.6 L253.6,430.8 L255.2,437.8 L256.8,435.5 L258.4,429.1 L260,435.2 L261.6,438.9 L263.2,437.2 L264.8,429.2 L266.4,440.3 L268,440.4 L269.6,440.2 L271.2,443 L272.8,440.9 L274.4,441.9 L276,440.8 L277.6,434 L279.2,442.6 L280.8,447.5 L282.4,444.7 L284,450.8 L285.6,452.7 L287.2,451.4 L288.8,452.3 L290.4,450.1 L292,451.4 L293.6,448.3 L295.2,453.6 L296.8,452.5 L298.4,454.8 L300,453.5 L301.3,450 L302.6,443 L303.9,454.4 L305.2,449.9 L306.5,454 L307.8,449.9 L309.1,452.1 L310.4,459.1 L311.7,457.5 L313,454.2 L314.3,468.2 L315.6,465.4 L316.9,460 L318.2,465.4 L319.5,464.1 L320.8,452.7 L322.1,450.6 L323.4,454.1 L324.7,455.3 L326,456.7 L327.3,470.9 L328.6,456.5 L329.9,456.1 L331.2,452.9 L332.5,457.9 L333.8,455.2 L335.1,471.4 L336.4,457 L337.7,471.8 L339,461.5 L340.3,469.5 L341.6,461.8 L342.9,476.2 L344.2,467.9 L345.5,465.2 L346.8,458.7 L348.1,467.6 L349.4,476.6 L350.7,467.1 L352,466.8 L353.3,482 L354.6,469.5 L355.9,470 L357.2,476.5 L358.5,462.7 L359.8,466.8 L361.1,442.7 L362.4,477.7 L363.7,472.2 L365,477.2 L366.3,466.8 L367.6,454.4 L368.9,479.5 L370.2,496.2 L371.5,467.6 L372.8,474.9 L374.1,483.6 L375.4,466.1 L376.7,468.8 L378,465.3 L379.3,460.9 L380.6,460.3 L381.9,455.8 L383.2,467.9 L384.5,485.2 L385.8,456.3 L387.1,470.7 L388.4,471.2 L389.7,478.2 L391,489.6 L392.3,458.7 L393.6,477.6 L394.9,481.8 L396.2,472.9 L397.5,466 L398.8,484.3 L400.1,492.5 L401.4,476.1 L402.7,451.9 L404,487.3 L405.3,481.8 L406.6,479.2 L407.9,489.6 L409.2,476.9 L410.5,474.2 L411.8,475.9 L413.1,480.8 L414.4,476.7 L415.7,468.2 L417,493.6 L418.3,474.3 L419.6,485 L420.9,467.1 L422.2,473.4 L423.5,470.1 L424.8,469.2 L426.1,479.7 L427.4,462.9 L428.7,482.3 L430,482.2 L431.3,462.6 L432.6,477 L433.9,461 L435.2,476.3 L436.5,467.2 L437.8,467.9 L439.1,478.5 L440.4,474.4 L441.7,486.8 L443,488.5 L444.3,468.7 L445.6,486.8 L446.9,473.9 L448.2,490.4 L449.5,479.5 L450.8,489.9 L452.1,459.2 L453.4,480.5 L454.7,461.8 L456,483.1 L457.3,492.8 L458.6,461.9 L459.9,473.3 L461.2,483.6 L462.5,478.6 L463.8,465.6 L465.1,451.2 L466.4,486.7 L467.7,475.1 L469,459.5 L470.3,491.3 L471.6,471.9 L472.9,463.7 L474.2,490.2 L475.5,482.5 L476.8,463.6 L478.1,472.6 L479.4,487 L480.7,470.4 L482,489.4 L483.3,479.9 L484.6,476.1 L485.9,465.2 L487.2,471.2 L488.5,480.6 L489.8,472.8 L491.1,471.7 L492.4,468.1 L493.7,457.6 L495,460.4 L496.3,477.9 L497.6,464.7 L498.9,476.4 L500.2,493.4 L501.5,489.3 L502.8,487.7 L504.1,457.9 L505.4,468.6 L506.7,463.3 L508,480.3 L509.3,472.4 L510.6,477 L511.9,458.8 L513.2,492.4 L514.5,463.5 L515.8,451.5 L517.1,468.6 L518.4,467.5 L519.7,469.8 L521,468.5 L522.3,472.7 L523.6,479.9 L524.9,482.8 L526.2,474.6 L527.5,457.1 L528.8,470.5 L530.1,468 L531.4,478.4 L532.7,469.9 L534,475.7 L535.3,468.9 L536.6,472.2 L537.9,466.8 L539.2,463.2 L540.5,472.6 L541.8,462.4 L543.1,471.8 L544.4,469.9 L545.7,465.7 L547,470.4 L548.3,466.1 L549.6,456.6 L550.9,471.7 L552.2,462 L553.5,452.5 L554.8,459 L556.1,455.3 L557.4,455.8 L558.7,452.5 L560,445.4 L561.3,446 L562.6,450.8 L563.9,450.2 L565.2,437 L566.5,443.1 L567.8,444 L569.1,439 L570.4,441 L571.7,437.2 L573,435.6 L574.3,434.4 L575.6,433.9 L576.9,432.7 L578.2,435.6 L579.5,431.7 L580.8,426.1 L582.8,420.5 L584.8,414.7 L586.8,404 L588.8,394.9 L590.8,390.2 L592.8,378.7 L594.8,375 L596.8,366 L598.8,368.2 L600.8,368.7 L602.8,369.3 L604.8,366.9 L606.8,369.7 L608.8,368.2 L610.8,367.5 L612.8,367.9 L614.8,368.3 L616.8,367.5 L618.8,367.4 L620.8,368.1 L622.8,367.2 L624.8,367.3 L626.8,367.4 L628.8,368.5 L630.8,367.9 L632.8,368.4 L634.8,367.4 L636.8,367.4 L638.8,368.7 L640.8,368.1 L642.8,369.3 L644.8,368 L646.8,369.5 L648.8,367.3 L650.8,368.6 L652.8,367.9 L654.8,369.2 L656.8,369 L658.8,367.5 L660.8,368.5 L662.8,369.7 L664.8,368.4 L666.8,367.5 L668.8,367.4 L670.8,368.2 L672.8,366.9 L674.8,367.5 L676.8,367.5 L678.8,365.8 L680.8,367.2 L682.8,366 L684.8,365.4 L686.8,365 L688.8,367.6 L690.8,365.6 L692.8,364.4 L694.8,364.9 L696.8,365.4 L698.8,365.5 L700.8,366.2 L702,365" stroke="#EA4B46"/><path d="M66,362.8 L68,362.6 L70,362.7 L72,363.6 L74,361.4 L76,362.6 L78,360.9 L80,361.5 L82,361.8 L84,363.5 L86,361.2 L88,362.4 L90,360.4 L92,363.4 L94,360.6 L96,360.4 L98,361.3 L100,360.6 L102,361.6 L104,360.3 L106,360.3 L108,358.6 L110,360.7 L112,358.3 L114,359.4 L116,360.2 L118,358.5 L120,358.7 L122,358.8 L124,360.8 L126,359.3 L128,359.7 L130,359.8 L132,360.7 L134,360.5 L136,360.7 L138,363 L140,362.2 L141,363.2 L142,362.9 L144,362.2 L146,363.2 L147,365.8 L148,397.5 L149.2,444.9 L150,444.6 L150.5,446.1 L152,444.4 L154,446.5 L156,446.4 L158,444.3 L160,445.5 L161.5,445.2 L162,413.8 L163,351.6 L164,350.8 L165,350.1 L166,351.9 L167.5,352.8 L168,357.2 L168.8,364.2 L170,364.8 L171,368.3 L172,367.3 L173.3,368.3 L174,383.1 L174.4,387.8 L175.5,394 L176,393.4 L178,393.9 L180,397.6 L182,395.9 L184,399.6 L186,405.4 L188,404.2 L190,407.7 L192,409 L194,409.9 L196,409.9 L198,412.3 L200,412.5 L202,420.8 L204,410.8 L206,412.5 L208,408 L210,411.6 L212,420.3 L214,416.9 L216,410.6 L218,412.7 L220,409.1 L222,406.7 L224,411.9 L226,417.6 L228,413.3 L230,410.4 L232,412.1 L234,413.6 L236,414.3 L238,414 L240,414.7 L242,417.7 L244,418.6 L246,417.5 L248,422.8 L250,424 L252,421.7 L253.6,425 L255.2,433.2 L256.8,428 L258.4,426.6 L260,430.6 L261.6,434.2 L263.2,431.3 L264.8,431.5 L266.4,435.8 L268,434.2 L269.6,433.3 L271.2,435.1 L272.8,438.3 L274.4,431 L276,437.4 L277.6,435.5 L279.2,437.9 L280.8,439.6 L282.4,440.2 L284,441.5 L285.6,442.9 L287.2,440.9 L288.8,440.6 L290.4,439.8 L292,447.1 L293.6,447.1 L295.2,451.9 L296.8,447.3 L298.4,445 L300,447.9 L301.3,447.4 L302.6,449.5 L303.9,455.6 L305.2,449.8 L306.5,440.5 L307.8,453.2 L309.1,457 L310.4,457.5 L311.7,447.1 L313,456.6 L314.3,456.6 L315.6,464.5 L316.9,458.2 L318.2,461.3 L319.5,456.7 L320.8,451.2 L322.1,453.7 L323.4,450.4 L324.7,465.7 L326,465.3 L327.3,453.1 L328.6,446.7 L329.9,461.3 L331.2,463.7 L332.5,458.7 L333.8,468 L335.1,470 L336.4,454.5 L337.7,455.1 L339,469.5 L340.3,466.2 L341.6,467.4 L342.9,468.6 L344.2,464.6 L345.5,460 L346.8,448.2 L348.1,458.3 L349.4,473.6 L350.7,463.3 L352,465.9 L353.3,468.1 L354.6,459.8 L355.9,464.2 L357.2,464.3 L358.5,458.4 L359.8,462.3 L361.1,446.3 L362.4,460.7 L363.7,455.6 L365,469.8 L366.3,451.7 L367.6,457.8 L368.9,474.5 L370.2,490.5 L371.5,477.4 L372.8,469.7 L374.1,484.1 L375.4,464.1 L376.7,473.6 L378,462.2 L379.3,473.1 L380.6,466.4 L381.9,459.5 L383.2,450.2 L384.5,482.6 L385.8,459.5 L387.1,481.4 L388.4,462 L389.7,470.7 L391,465.8 L392.3,479.3 L393.6,476.5 L394.9,481.7 L396.2,475.3 L397.5,488.5 L398.8,482 L400.1,477.7 L401.4,465 L402.7,453.9 L404,464.4 L405.3,487.3 L406.6,464.1 L407.9,468.2 L409.2,474.5 L410.5,476.7 L411.8,490.8 L413.1,473.1 L414.4,487.9 L415.7,460.4 L417,474.9 L418.3,463.4 L419.6,497 L420.9,477.6 L422.2,490.1 L423.5,464.8 L424.8,462.8 L426.1,488.4 L427.4,463.7 L428.7,479.5 L430,467.4 L431.3,460.5 L432.6,465.2 L433.9,452.4 L435.2,471.2 L436.5,478.5 L437.8,473.3 L439.1,473.2 L440.4,478.4 L441.7,483 L443,486.1 L444.3,471.2 L445.6,465.9 L446.9,460.9 L448.2,489.6 L449.5,469 L450.8,471.3 L452.1,469.5 L453.4,481.7 L454.7,460.2 L456,488.7 L457.3,489.2 L458.6,462.1 L459.9,475.9 L461.2,488 L462.5,479.1 L463.8,475.9 L465.1,465.9 L466.4,468.5 L467.7,462.9 L469,460 L470.3,484.6 L471.6,466.4 L472.9,463.2 L474.2,476.8 L475.5,460.1 L476.8,477.7 L478.1,482.1 L479.4,461.1 L480.7,463.5 L482,475 L483.3,483.3 L484.6,481.5 L485.9,467.7 L487.2,462.5 L488.5,470.5 L489.8,464.2 L491.1,473.4 L492.4,469.6 L493.7,467.1 L495,458.6 L496.3,474.6 L497.6,482.8 L498.9,464.1 L500.2,479.1 L501.5,473.2 L502.8,480.2 L504.1,448.1 L505.4,482.1 L506.7,464.3 L508,456 L509.3,460.4 L510.6,457.2 L511.9,476.7 L513.2,489.3 L514.5,464.9 L515.8,449.8 L517.1,475.8 L518.4,470.4 L519.7,469.8 L521,453.7 L522.3,463 L523.6,477 L524.9,474 L526.2,477 L527.5,474.5 L528.8,480.8 L530.1,471.5 L531.4,477.6 L532.7,465.6 L534,472.3 L535.3,469.2 L536.6,468.3 L537.9,461.4 L539.2,456.7 L540.5,465.2 L541.8,459.2 L543.1,463.5 L544.4,468.9 L545.7,461.7 L547,462.9 L548.3,462.5 L549.6,457.7 L550.9,458.6 L552.2,454.1 L553.5,457.5 L554.8,462.7 L556.1,452.4 L557.4,451.4 L558.7,451 L560,445.1 L561.3,442.3 L562.6,443.5 L563.9,443.2 L565.2,440.8 L566.5,441 L567.8,444.9 L569.1,438.4 L570.4,436.9 L571.7,437.2 L573,426.1 L574.3,432.4 L575.6,436.1 L576.9,426.8 L578.2,432.8 L579.5,427.2 L580.8,422.4 L582.8,416.7 L584.8,408.8 L586.8,400 L588.8,394.3 L590.8,383.5 L592.8,373 L594.8,367.5 L596.8,361.7 L598.8,361.1 L600.8,362.6 L602.8,362.6 L604.8,362.2 L606.8,361.7 L608.8,362.1 L610.8,361.9 L612.8,361.5 L614.8,362.2 L616.8,361.1 L618.8,361.3 L620.8,361.6 L622.8,362.5 L624.8,361.5 L626.8,363 L628.8,362.5 L630.8,362.6 L632.8,362 L634.8,362 L636.8,362.7 L638.8,362.3 L640.8,360.5 L642.8,362.9 L644.8,362.6 L646.8,361.8 L648.8,361.3 L650.8,360.8 L652.8,363 L654.8,362.2 L656.8,362.9 L658.8,362.5 L660.8,362.9 L662.8,362.4 L664.8,363.5 L666.8,363.2 L668.8,362.8 L670.8,362.3 L672.8,360.4 L674.8,360.3 L676.8,360.8 L678.8,361.2 L680.8,360.5 L682.8,359 L684.8,358.4 L686.8,358.5 L688.8,360.9 L690.8,360.4 L692.8,359.6 L694.8,361.1 L696.8,358.5 L698.8,359.5 L700.8,360.1 L702,359.6" stroke="#1F78C1"/></g>
<polygon points="146,326 533.9,326 535.6,500.5 146,500.5" fill="#EAB839" fill-opacity="0.17"/>
<path d="M146,326 L533.9,326 L535.6,500.5" fill="none" stroke="#EAB839" stroke-width="2" stroke-linejoin="round" stroke-linecap="round"/>
<polygon points="607,326 669,326 670.5,500.5 607,500.5" fill="#4A9E4A" fill-opacity="0.13"/>
<path d="M607,326 L669,326 L670.5,500.5" fill="none" stroke="#4A9E4A" stroke-width="2" stroke-linejoin="round" stroke-linecap="round"/>
<line x1="66" y1="501" x2="702" y2="501" stroke="#0B5CB4" stroke-width="2"/>
</svg>
</body></html>
